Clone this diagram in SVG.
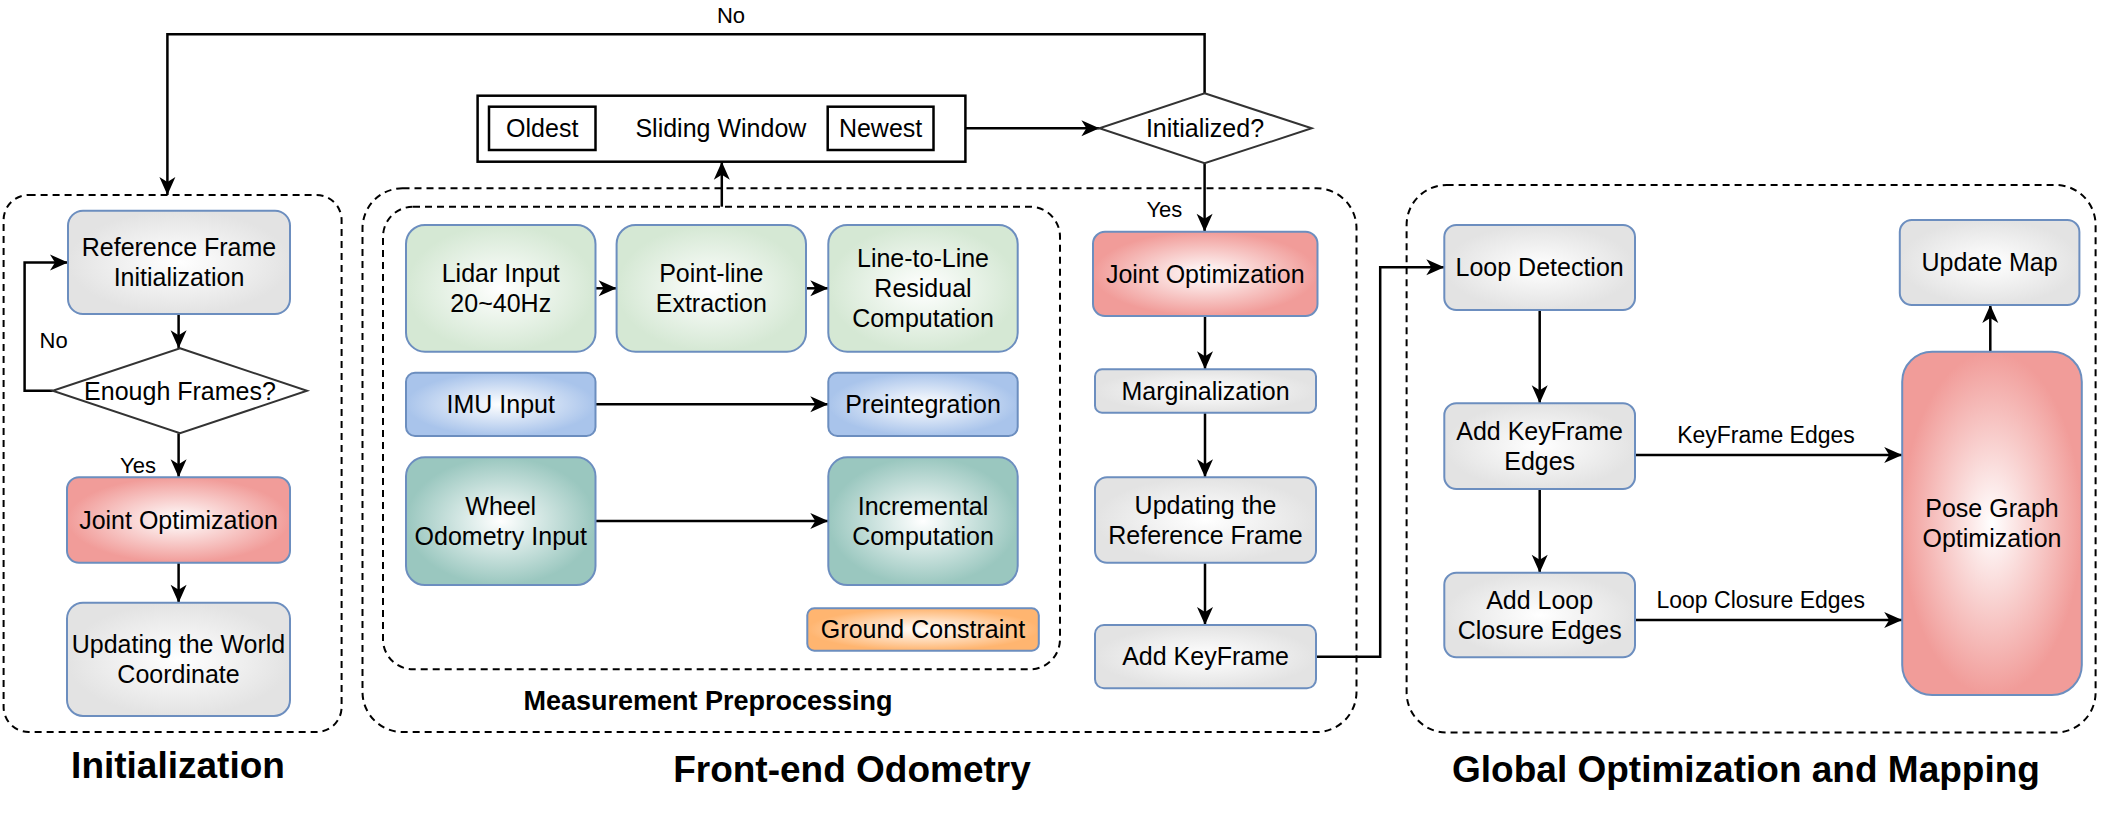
<svg xmlns="http://www.w3.org/2000/svg" width="2101" height="818" viewBox="0 0 2101 818">
<defs>
<style>
.t{font-family:'Liberation Sans',Arial,sans-serif;font-size:25px;fill:#000;text-anchor:middle}
.lbl{font-size:22px}
.elbl{font-size:23px}
.title{font-weight:bold;font-size:37px}
.sub{font-weight:bold;font-size:27px}
.node{stroke:#6c8ebf;stroke-width:2}
.cont{fill:none;stroke:#000;stroke-width:2;stroke-dasharray:7 5}
.edge{fill:none;stroke:#000;stroke-width:2.5}
.dia{fill:#fff;stroke:#333;stroke-width:2}
.sw{fill:#fff;stroke:#000;stroke-width:2.5}
</style>
<radialGradient id="gGray"><stop offset="0" stop-color="#ffffff"/><stop offset="1" stop-color="#e3e3e3"/></radialGradient>
<radialGradient id="gRed"><stop offset="0" stop-color="#ffffff"/><stop offset="1" stop-color="#f19c99"/></radialGradient>
<radialGradient id="gGreen"><stop offset="0" stop-color="#ffffff"/><stop offset="1" stop-color="#d5e8d4"/></radialGradient>
<radialGradient id="gBlue"><stop offset="0" stop-color="#ffffff"/><stop offset="1" stop-color="#a9c4eb"/></radialGradient>
<radialGradient id="gTeal"><stop offset="0" stop-color="#ffffff"/><stop offset="1" stop-color="#9ac7bf"/></radialGradient>
<radialGradient id="gOrange"><stop offset="0" stop-color="#ffffff"/><stop offset="1" stop-color="#ffb570"/></radialGradient>
<marker id="arr" markerUnits="userSpaceOnUse" markerWidth="20" markerHeight="18" refX="18" refY="8" orient="auto" overflow="visible">
<path d="M0,0 L18,8 L0,16 L5,8 Z" fill="#000"/>
</marker>
</defs>

<g id="containers">
<g id="init-container"><rect class="cont" x="3.6" y="195" width="338" height="537" rx="25"/></g>
<g id="frontend-container"><rect class="cont" x="362.5" y="188.3" width="994" height="543.7" rx="40"/></g>
<g id="measurement-container"><rect class="cont" x="383" y="206.7" width="677" height="462.6" rx="30"/></g>
<g id="global-container"><rect class="cont" x="1406.6" y="185" width="689" height="547.5" rx="40"/></g>
</g>

<g id="titles">
<text class="t title" x="178" y="778">Initialization</text>
<text class="t title" x="852" y="781.5">Front-end Odometry</text>
<text class="t title" x="1746" y="781.5">Global Optimization and Mapping</text>
<text class="t sub" x="708" y="709.5">Measurement Preprocessing</text>
</g>

<g id="connectors">
<path class="edge" d="M1204.6,93.3 V34.3 H167.4 V195" marker-end="url(#arr)"/>
<text class="t lbl" x="731" y="23.4">No</text>
<path class="edge" d="M965.4,128.3 H1099.4" marker-end="url(#arr)"/>
<path class="edge" d="M721.8,206.7 V161.7" marker-end="url(#arr)"/>
<path class="edge" d="M1204.6,163.3 V231.7" marker-end="url(#arr)"/>
<text class="t lbl" x="1164.4" y="216.7">Yes</text>
<path class="edge" d="M178.6,314 V348.3" marker-end="url(#arr)"/>
<path class="edge" d="M52.7,390.8 H24.6 V262.5 H68" marker-end="url(#arr)"/>
<text class="t lbl" x="53.6" y="347.7">No</text>
<path class="edge" d="M178.6,433.3 V477.3" marker-end="url(#arr)"/>
<text class="t lbl" x="138" y="473.4">Yes</text>
<path class="edge" d="M178.6,562.7 V602.7" marker-end="url(#arr)"/>
<path class="edge" d="M595.5,288.3 H616.6" marker-end="url(#arr)"/>
<path class="edge" d="M806,288.3 H828.3" marker-end="url(#arr)"/>
<path class="edge" d="M595.5,404.3 H828.3" marker-end="url(#arr)"/>
<path class="edge" d="M595.5,521 H828.3" marker-end="url(#arr)"/>
<path class="edge" d="M1205,316 V369.3" marker-end="url(#arr)"/>
<path class="edge" d="M1205,412.7 V477.3" marker-end="url(#arr)"/>
<path class="edge" d="M1205,562.7 V625" marker-end="url(#arr)"/>
<path class="edge" d="M1316,656.7 H1380.2 V267.3 H1444.3" marker-end="url(#arr)"/>
<path class="edge" d="M1539.7,310 V403.3" marker-end="url(#arr)"/>
<path class="edge" d="M1539.7,489 V572.7" marker-end="url(#arr)"/>
<path class="edge" d="M1635,455 H1902.2" marker-end="url(#arr)"/>
<text class="t elbl" x="1766" y="443">KeyFrame Edges</text>
<path class="edge" d="M1635,620 H1902.2" marker-end="url(#arr)"/>
<text class="t elbl" x="1760.7" y="608">Loop Closure Edges</text>
<path class="edge" d="M1990.3,351.7 V305" marker-end="url(#arr)"/>
</g>

<g id="sliding-window">
<rect class="sw" x="477.6" y="95.7" width="487.8" height="66"/>
<rect class="sw" x="489" y="106.7" width="106.5" height="43.3"/>
<rect class="sw" x="827.7" y="106.7" width="105.8" height="43.3"/>
<text class="t" x="542.25" y="137.1">Oldest</text>
<text class="t" x="720.9" y="137.1">Sliding Window</text>
<text class="t" x="880.6" y="137.1">Newest</text>
</g>

<g id="initialized">
<polygon class="dia" points="1204.6,93.3 1311.7,128.3 1204.6,163.3 1099.4,128.3"/>
<text class="t" x="1205" y="137.05">Initialized?</text>
</g>

<g id="ref-frame-init">
<rect class="node" x="68" y="210.7" width="222" height="103.3" rx="15" fill="url(#gGray)"/>
<text class="t" x="179" y="256.1">Reference Frame</text>
<text class="t" x="179" y="286.1">Initialization</text>
</g>
<g id="enough-frames">
<polygon class="dia" points="180,348.3 307,390.8 180,433.3 52.7,390.8"/>
<text class="t" x="180" y="399.5">Enough Frames?</text>
</g>
<g id="joint-opt-init">
<rect class="node" x="67" y="477.3" width="223" height="85.4" rx="12" fill="url(#gRed)"/>
<text class="t" x="178.5" y="528.75">Joint Optimization</text>
</g>
<g id="updating-world">
<rect class="node" x="67" y="602.7" width="223" height="113.3" rx="16" fill="url(#gGray)"/>
<text class="t" x="178.5" y="653.1">Updating the World</text>
<text class="t" x="178.5" y="683.1">Coordinate</text>
</g>

<g id="lidar">
<rect class="node" x="406" y="225" width="189.5" height="126.7" rx="19" fill="url(#gGreen)"/>
<text class="t" x="500.75" y="282.1">Lidar Input</text>
<text class="t" x="500.75" y="312.1">20~40Hz</text>
</g>
<g id="point-line">
<rect class="node" x="616.6" y="225" width="189.4" height="126.7" rx="19" fill="url(#gGreen)"/>
<text class="t" x="711.3" y="282.1">Point-line</text>
<text class="t" x="711.3" y="312.1">Extraction</text>
</g>
<g id="line-to-line">
<rect class="node" x="828.3" y="225" width="189.4" height="126.7" rx="19" fill="url(#gGreen)"/>
<text class="t" x="923" y="267.1">Line-to-Line</text>
<text class="t" x="923" y="297.1">Residual</text>
<text class="t" x="923" y="327.1">Computation</text>
</g>
<g id="imu">
<rect class="node" x="406" y="372.7" width="189.5" height="63.3" rx="9" fill="url(#gBlue)"/>
<text class="t" x="500.75" y="413.1">IMU Input</text>
</g>
<g id="preintegration">
<rect class="node" x="828.3" y="372.7" width="189.4" height="63.3" rx="9" fill="url(#gBlue)"/>
<text class="t" x="923" y="413.1">Preintegration</text>
</g>
<g id="wheel">
<rect class="node" x="406" y="457.3" width="189.5" height="127.7" rx="19" fill="url(#gTeal)"/>
<text class="t" x="500.75" y="514.9">Wheel</text>
<text class="t" x="500.75" y="544.9">Odometry Input</text>
</g>
<g id="incremental">
<rect class="node" x="828.3" y="457.3" width="189.4" height="127.7" rx="19" fill="url(#gTeal)"/>
<text class="t" x="923" y="514.9">Incremental</text>
<text class="t" x="923" y="544.9">Computation</text>
</g>
<g id="ground">
<rect class="node" x="807.3" y="608.3" width="231.5" height="42.4" rx="7" fill="url(#gOrange)"/>
<text class="t" x="923" y="638.25">Ground Constraint</text>
</g>

<g id="joint-opt-front">
<rect class="node" x="1093" y="231.7" width="224.5" height="84.3" rx="12" fill="url(#gRed)"/>
<text class="t" x="1205.25" y="282.6">Joint Optimization</text>
</g>
<g id="marginalization">
<rect class="node" x="1095" y="369.3" width="221" height="43.4" rx="7" fill="url(#gGray)"/>
<text class="t" x="1205.5" y="399.75">Marginalization</text>
</g>
<g id="updating-ref">
<rect class="node" x="1095" y="477.3" width="221" height="85.4" rx="12" fill="url(#gGray)"/>
<text class="t" x="1205.5" y="513.75">Updating the</text>
<text class="t" x="1205.5" y="543.75">Reference Frame</text>
</g>
<g id="add-keyframe">
<rect class="node" x="1095" y="625" width="221" height="63.3" rx="9" fill="url(#gGray)"/>
<text class="t" x="1205.5" y="665.4">Add KeyFrame</text>
</g>

<g id="loop-detection">
<rect class="node" x="1444.3" y="225" width="190.7" height="85" rx="12" fill="url(#gGray)"/>
<text class="t" x="1539.65" y="276.25">Loop Detection</text>
</g>
<g id="add-kf-edges">
<rect class="node" x="1444.3" y="403.3" width="190.7" height="85.7" rx="12" fill="url(#gGray)"/>
<text class="t" x="1539.65" y="439.9">Add KeyFrame</text>
<text class="t" x="1539.65" y="469.9">Edges</text>
</g>
<g id="add-loop-edges">
<rect class="node" x="1444.3" y="572.7" width="190.7" height="84.6" rx="12" fill="url(#gGray)"/>
<text class="t" x="1539.65" y="608.75">Add Loop</text>
<text class="t" x="1539.65" y="638.75">Closure Edges</text>
</g>
<g id="update-map">
<rect class="node" x="1899.8" y="220" width="179.6" height="85" rx="12" fill="url(#gGray)"/>
<text class="t" x="1989.6" y="271.25">Update Map</text>
</g>
<g id="pose-graph">
<rect class="node" x="1902.2" y="351.7" width="179.6" height="343.3" rx="30" fill="url(#gRed)"/>
<text class="t" x="1992" y="517.1">Pose Graph</text>
<text class="t" x="1992" y="547.1">Optimization</text>
</g>
</svg>
